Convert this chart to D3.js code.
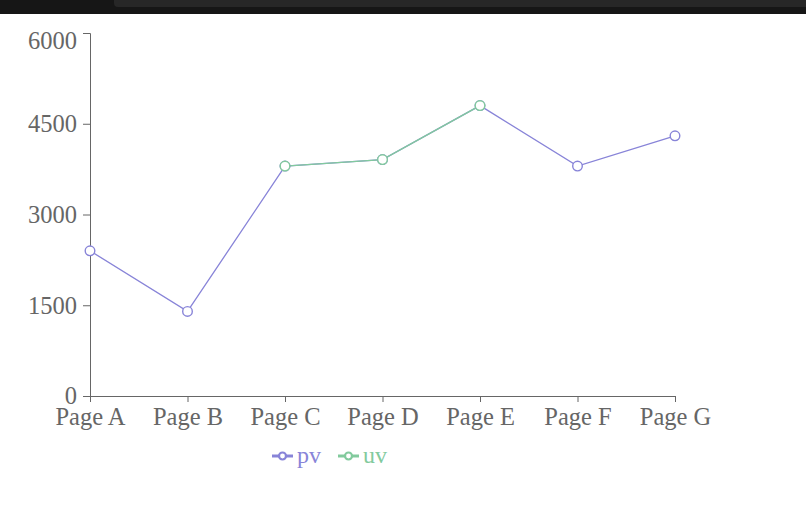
<!DOCTYPE html>
<html>
<head>
<meta charset="utf-8">
<script src="https://cdn.jsdelivr.net/npm/d3@7"></script>
<style>
  body { margin: 0; background: #fff; width: 806px; height: 512px; overflow: hidden; }
  #topbar { position: absolute; left: 0; top: 0; width: 806px; height: 14px; background: #161616; }
  #topbar div { position: absolute; left: 114px; top: 0; right: 0; height: 7px; background: #272727; border-bottom-left-radius: 4px; }
  svg { position: absolute; left: 0; top: 0; }
  text { font-family: "Liberation Serif", "Times New Roman", serif; font-size: 24px; }
</style>
</head>
<body>
<div id="topbar"><div></div></div>
<div id="chart"></div>
<script>
// chart data
const pages = ["Page A", "Page B", "Page C", "Page D", "Page E", "Page F", "Page G"];
const pv = [2400, 1398, 3800, 3908, 4800, 3800, 4300];
const uv = [null, null, 3800, 3908, 4800, null, null];
const yTicks = [0, 1500, 3000, 4500, 6000];

const w = 806, h = 512;
const margin = {top: 33, right: 131, bottom: 116, left: 90};

const svg = d3.select("#chart").append("svg")
    .attr("width", w)
    .attr("height", h);

const x = d3.scalePoint()
    .domain(pages)
    .range([margin.left, w - margin.right]);

const y = d3.scaleLinear()
    .domain([0, 6000])
    .range([h - margin.bottom, margin.top]);

// y axis
const yAxis = svg.append("g")
    .attr("transform", "translate(" + margin.left + ",0)")
    .call(d3.axisLeft(y).tickValues(yTicks).tickFormat(d3.format("d"))
      .tickSizeOuter(0).tickSize(7).tickPadding(6));

// x axis
const xAxis = svg.append("g")
    .attr("transform", "translate(0," + (h - margin.bottom) + ")")
    .call(d3.axisBottom(x).tickSizeOuter(0).tickSize(6).tickPadding(6));

[yAxis, xAxis].forEach(g => {
  g.selectAll("path, line").attr("stroke", "#666");
  g.selectAll("text").attr("fill", "#666").style("font-size", "24.5px")
    .style("font-family", "'Liberation Serif', 'Times New Roman', serif");
});
xAxis.selectAll("text").attr("dy", "0.71em").attr("y", 12);
// top label sits below its tick, as in the original
yAxis.selectAll(".tick text").filter(d => d === 6000).attr("dy", "0.63em");

const line = d3.line()
    .defined(d => d != null)
    .x((d, i) => x(pages[i]))
    .y(d => y(d));

const series = [
  {name: "pv", values: pv, color: "#8884d8"},
  {name: "uv", values: uv, color: "#82ca9d"}
];

series.forEach(s => {
  svg.append("path")
    .datum(s.values)
    .attr("fill", "none")
    .attr("stroke", s.color)
    .attr("stroke-width", 1.3)
    .attr("d", line);
});

series.forEach(s => {
  svg.append("g").selectAll("circle")
    .data(s.values.map((v, i) => ({v, i})).filter(d => d.v != null))
    .enter().append("circle")
    .attr("cx", d => x(pages[d.i]))
    .attr("cy", d => y(d.v))
    .attr("r", 4.8)
    .attr("fill", "#fff")
    .attr("stroke", s.color)
    .attr("stroke-width", 1.4);
});

// legend
const legendX = [272, 338];
const legendY = 456;
series.forEach((s, i) => {
  const g = svg.append("g").attr("transform", "translate(" + legendX[i] + "," + legendY + ")");
  g.append("line").attr("x1", 0).attr("x2", 21).attr("y1", 0).attr("y2", 0)
    .attr("stroke", s.color).attr("stroke-width", 3);
  g.append("circle").attr("cx", 10.5).attr("cy", 0).attr("r", 3.5)
    .attr("fill", "#fff").attr("stroke", s.color).attr("stroke-width", 2.2);
  g.append("text").attr("x", 25).attr("y", 6.5).attr("fill", s.color).text(s.name);
});
</script>
</body>
</html>
